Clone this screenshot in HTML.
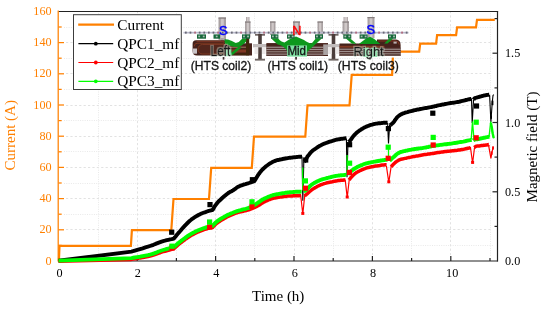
<!DOCTYPE html>
<html lang="en"><head><meta charset="utf-8"><title>Current and magnetic field vs time</title>
<style>html,body{margin:0;padding:0;background:#fff;}body{width:550px;height:310px;overflow:hidden;}svg{display:block;}.s{font-family:"Liberation Serif","DejaVu Serif",serif;}.a{font-family:"Liberation Sans","DejaVu Sans",sans-serif;}</style></head><body>
<svg width="550" height="310" viewBox="0 0 550 310">
<rect width="550" height="310" fill="#fff"/>
<g fill="none" stroke-width="1">
<line x1="64" y1="245.5" x2="493.5" y2="245.5" stroke="#e9e9e9" stroke-dasharray="1 1.3"/>
<line x1="66" y1="229.5" x2="491.5" y2="229.5" stroke="#e2e2e2" stroke-dasharray="2.2 2.2"/>
<line x1="64" y1="214.5" x2="493.5" y2="214.5" stroke="#e9e9e9" stroke-dasharray="1 1.3"/>
<line x1="66" y1="198.5" x2="491.5" y2="198.5" stroke="#e2e2e2" stroke-dasharray="2.2 2.2"/>
<line x1="64" y1="183.5" x2="493.5" y2="183.5" stroke="#e9e9e9" stroke-dasharray="1 1.3"/>
<line x1="66" y1="167.5" x2="491.5" y2="167.5" stroke="#e2e2e2" stroke-dasharray="2.2 2.2"/>
<line x1="64" y1="151.5" x2="493.5" y2="151.5" stroke="#e9e9e9" stroke-dasharray="1 1.3"/>
<line x1="66" y1="136.5" x2="491.5" y2="136.5" stroke="#e2e2e2" stroke-dasharray="2.2 2.2"/>
<line x1="64" y1="120.5" x2="493.5" y2="120.5" stroke="#e9e9e9" stroke-dasharray="1 1.3"/>
<line x1="66" y1="105.5" x2="491.5" y2="105.5" stroke="#e2e2e2" stroke-dasharray="2.2 2.2"/>
<line x1="64" y1="89.5" x2="493.5" y2="89.5" stroke="#e9e9e9" stroke-dasharray="1 1.3"/>
<line x1="66" y1="73.5" x2="491.5" y2="73.5" stroke="#e2e2e2" stroke-dasharray="2.2 2.2"/>
<line x1="64" y1="58.5" x2="493.5" y2="58.5" stroke="#e9e9e9" stroke-dasharray="1 1.3"/>
<line x1="66" y1="42.5" x2="491.5" y2="42.5" stroke="#e2e2e2" stroke-dasharray="2.2 2.2"/>
<line x1="64" y1="27.5" x2="493.5" y2="27.5" stroke="#e9e9e9" stroke-dasharray="1 1.3"/>
<line x1="98.5" y1="11.0" x2="98.5" y2="257.0" stroke="#e9e9e9" stroke-dasharray="1 1.3"/>
<line x1="137.5" y1="11.0" x2="137.5" y2="255.0" stroke="#e2e2e2" stroke-dasharray="2.2 2.2"/>
<line x1="176.5" y1="11.0" x2="176.5" y2="257.0" stroke="#e9e9e9" stroke-dasharray="1 1.3"/>
<line x1="215.5" y1="11.0" x2="215.5" y2="255.0" stroke="#e2e2e2" stroke-dasharray="2.2 2.2"/>
<line x1="254.5" y1="11.0" x2="254.5" y2="257.0" stroke="#e9e9e9" stroke-dasharray="1 1.3"/>
<line x1="294.5" y1="11.0" x2="294.5" y2="255.0" stroke="#e2e2e2" stroke-dasharray="2.2 2.2"/>
<line x1="333.5" y1="11.0" x2="333.5" y2="257.0" stroke="#e9e9e9" stroke-dasharray="1 1.3"/>
<line x1="372.5" y1="11.0" x2="372.5" y2="255.0" stroke="#e2e2e2" stroke-dasharray="2.2 2.2"/>
<line x1="411.5" y1="11.0" x2="411.5" y2="257.0" stroke="#e9e9e9" stroke-dasharray="1 1.3"/>
<line x1="450.5" y1="11.0" x2="450.5" y2="255.0" stroke="#e2e2e2" stroke-dasharray="2.2 2.2"/>
<line x1="490.5" y1="11.0" x2="490.5" y2="257.0" stroke="#e9e9e9" stroke-dasharray="1 1.3"/>
</g>
<g fill="none" stroke="#222" stroke-width="1.2">
<line x1="58.5" y1="11.5" x2="498.1" y2="11.5"/>
<line x1="497.5" y1="11.0" x2="497.5" y2="261.6"/>
<line x1="58.5" y1="261.0" x2="497.5" y2="261.0"/>
<line x1="98.0" y1="261.0" x2="98.0" y2="258.0"/>
<line x1="137.2" y1="261.0" x2="137.2" y2="256.0"/>
<line x1="176.4" y1="261.0" x2="176.4" y2="258.0"/>
<line x1="215.6" y1="261.0" x2="215.6" y2="256.0"/>
<line x1="254.8" y1="261.0" x2="254.8" y2="258.0"/>
<line x1="294.0" y1="261.0" x2="294.0" y2="256.0"/>
<line x1="333.2" y1="261.0" x2="333.2" y2="258.0"/>
<line x1="372.4" y1="261.0" x2="372.4" y2="256.0"/>
<line x1="411.6" y1="261.0" x2="411.6" y2="258.0"/>
<line x1="450.8" y1="261.0" x2="450.8" y2="256.0"/>
<line x1="490.0" y1="261.0" x2="490.0" y2="258.0"/>
<line x1="497.5" y1="226.4" x2="494.5" y2="226.4"/>
<line x1="497.5" y1="191.8" x2="492.5" y2="191.8"/>
<line x1="497.5" y1="157.1" x2="494.5" y2="157.1"/>
<line x1="497.5" y1="122.5" x2="492.5" y2="122.5"/>
<line x1="497.5" y1="87.9" x2="494.5" y2="87.9"/>
<line x1="497.5" y1="53.2" x2="492.5" y2="53.2"/>
<line x1="497.5" y1="18.6" x2="494.5" y2="18.6"/>
</g>
<g fill="none" stroke="#ff8000" stroke-width="1.25">
<line x1="58.2" y1="10.4" x2="58.2" y2="261.6"/>
<line x1="58.5" y1="245.4" x2="61.7" y2="245.4"/>
<line x1="58.5" y1="229.8" x2="64.0" y2="229.8"/>
<line x1="58.5" y1="214.2" x2="61.7" y2="214.2"/>
<line x1="58.5" y1="198.6" x2="64.0" y2="198.6"/>
<line x1="58.5" y1="183.0" x2="61.7" y2="183.0"/>
<line x1="58.5" y1="167.4" x2="64.0" y2="167.4"/>
<line x1="58.5" y1="151.8" x2="61.7" y2="151.8"/>
<line x1="58.5" y1="136.2" x2="64.0" y2="136.2"/>
<line x1="58.5" y1="120.6" x2="61.7" y2="120.6"/>
<line x1="58.5" y1="105.0" x2="64.0" y2="105.0"/>
<line x1="58.5" y1="89.4" x2="61.7" y2="89.4"/>
<line x1="58.5" y1="73.8" x2="64.0" y2="73.8"/>
<line x1="58.5" y1="58.2" x2="61.7" y2="58.2"/>
<line x1="58.5" y1="42.6" x2="64.0" y2="42.6"/>
<line x1="58.5" y1="27.0" x2="61.7" y2="27.0"/>
</g>
<polyline points="58.9,261.4 59.5,245.8 130.9,245.8 131.9,230.2 171.3,230.2 173.5,199.0 209.0,199.0 211.2,167.8 251.8,167.8 254.0,136.6 305.3,136.6 307.5,105.4 349.5,105.4 351.7,74.8 392.1,74.8 393.1,51.6 419.2,51.6 420.2,43.6 436.1,43.6 437.1,35.2 456.1,35.2 457.1,27.4 476.0,27.4 477.0,19.9 494.8,19.9" fill="none" stroke="#ff8000" stroke-width="2.2" stroke-linejoin="miter"/>
<g fill="none" stroke="#000" stroke-width="3.9" stroke-linejoin="round" stroke-linecap="butt">
<polyline points="58.5,260.8 131.4,251.6 132.9,251.2 134.9,250.6 137.3,249.9 140.0,249.1 142.7,248.3 145.4,247.4 147.9,246.7 150.0,246.0 151.8,245.4 153.4,244.8 154.8,244.2 156.2,243.6 157.5,243.1 158.8,242.6 160.2,242.1 161.6,241.6 163.2,241.1 164.9,240.7 166.7,240.2 168.4,239.8 170.1,239.4 171.6,239.1 172.9,238.8 173.8,238.6 174.2,238.2 174.6,237.6 175.2,236.9 175.8,236.2 176.5,235.3 177.3,234.4 178.1,233.4 179.0,232.4 180.0,231.3 181.1,230.0 182.3,228.6 183.6,227.1 184.9,225.7 186.2,224.3 187.5,223.0 188.7,221.8 189.9,220.7 191.1,219.8 192.3,218.8 193.6,218.0 194.8,217.2 196.0,216.4 197.2,215.7 198.4,215.0 199.6,214.4 200.9,213.8 202.2,213.2 203.5,212.7 204.8,212.3 206.0,211.9 207.0,211.5 208.0,211.2 208.8,210.9 209.6,210.7 210.3,210.5 210.9,210.4 211.4,210.2 211.9,210.2 212.3,210.1 212.6,210.0 213.0,209.4 213.4,208.7 213.9,207.8 214.5,206.7 215.2,205.7 216.0,204.6 216.8,203.5 217.7,202.4 218.7,201.3 219.9,200.2 221.2,199.0 222.5,197.8 223.9,196.6 225.2,195.5 226.4,194.5 227.4,193.7 228.3,193.0 229.1,192.5 229.8,192.1 230.4,191.8 231.0,191.5 231.6,191.2 232.3,190.8 233.0,190.4 233.7,189.9 234.4,189.4 235.2,188.8 235.9,188.3 236.7,187.7 237.5,187.2 238.3,186.7 239.3,186.2 240.4,185.7 241.6,185.3 242.9,184.9 244.2,184.4 245.5,184.1 246.8,183.7 248.0,183.3 249.0,183.0 249.9,182.7 250.8,182.4 251.6,182.1 252.3,181.9 253.0,181.7 253.5,181.5 254.0,181.3 254.4,181.2 254.7,180.6 255.2,179.9 255.7,179.0 256.3,178.0 256.9,177.0 257.5,176.0 258.1,175.0 258.7,174.2 259.2,173.5 259.7,172.8 260.3,172.1 260.8,171.4 261.3,170.8 261.8,170.2 262.4,169.6 263.0,169.0 263.6,168.4 264.3,167.8 265.0,167.2 265.7,166.6 266.4,166.0 267.1,165.5 267.8,165.0 268.4,164.5 269.0,164.1 269.6,163.7 270.2,163.3 270.7,163.0 271.3,162.7 271.8,162.4 272.4,162.1 273.0,161.8 273.6,161.5 274.1,161.3 274.6,161.1 275.2,160.9 275.8,160.6 276.4,160.4 277.1,160.2 278.0,160.0 279.0,159.8 280.2,159.5 281.4,159.3 282.7,159.0 284.0,158.7 285.3,158.5 286.6,158.3 287.7,158.1 288.7,157.9 289.7,157.8 290.6,157.7 291.5,157.6 292.4,157.5 293.3,157.4 294.1,157.3 295.0,157.2 295.9,157.1 296.9,157.0 298.0,156.9 299.0,156.8 299.9,156.8 300.7,156.7 301.5,156.6 302.0,156.6"/>
<polyline points="304.2,161.5 304.3,161.4 304.5,161.3 304.6,161.1 304.8,161.0 305.0,160.8 305.3,160.5 305.5,160.3 305.7,160.0 305.9,159.7 306.1,159.3 306.3,158.8 306.6,158.4 306.8,157.9 307.0,157.4 307.3,157.0 307.5,156.6 307.7,156.2 308.0,155.9 308.2,155.6 308.5,155.3 308.7,155.0 309.0,154.6 309.2,154.3 309.5,154.0 309.8,153.7 310.1,153.3 310.4,152.9 310.7,152.6 311.0,152.2 311.3,151.9 311.6,151.5 312.0,151.2 312.4,150.9 312.7,150.6 313.1,150.3 313.5,150.0 313.9,149.7 314.4,149.4 314.8,149.1 315.3,148.8 315.8,148.4 316.4,148.1 316.9,147.7 317.5,147.2 318.2,146.8 318.8,146.4 319.4,146.1 320.0,145.7 320.6,145.4 321.1,145.1 321.6,144.8 322.2,144.6 322.8,144.3 323.4,144.0 324.1,143.7 325.0,143.4 326.0,143.0 327.2,142.6 328.4,142.2 329.8,141.7 331.1,141.3 332.4,140.9 333.6,140.5 334.7,140.2 335.7,139.9 336.5,139.7 337.4,139.5 338.1,139.4 338.9,139.3 339.6,139.1 340.3,139.0 341.0,138.9 341.8,138.8 342.5,138.7 343.3,138.6 344.1,138.5 344.8,138.4 345.5,138.3 346.0,138.2 346.4,138.2"/>
<polyline points="348.6,142.0 348.7,141.9 348.9,141.7 349.1,141.5 349.4,141.3 349.7,141.1 349.9,140.8 350.2,140.5 350.5,140.2 350.8,139.8 351.1,139.4 351.4,139.0 351.7,138.5 352.0,138.0 352.3,137.5 352.7,137.0 353.0,136.6 353.3,136.2 353.7,135.8 354.0,135.4 354.4,135.0 354.8,134.6 355.2,134.2 355.6,133.8 356.0,133.4 356.4,133.0 356.9,132.6 357.3,132.2 357.8,131.8 358.3,131.4 358.8,131.0 359.4,130.6 360.0,130.2 360.6,129.8 361.3,129.3 362.0,128.9 362.8,128.5 363.5,128.0 364.3,127.6 365.1,127.2 366.0,126.8 366.9,126.4 367.9,126.0 368.9,125.6 369.9,125.2 370.9,124.9 372.0,124.6 373.0,124.3 374.0,124.0 375.0,123.8 376.1,123.6 377.1,123.5 378.2,123.3 379.2,123.3 380.2,123.2 381.1,123.1 382.0,123.0 382.9,122.9 383.7,122.8 384.5,122.8 385.3,122.7 386.0,122.7 386.7,122.7 387.2,122.6 387.6,122.6"/>
<polyline points="390.0,125.4 390.2,125.2 390.5,125.0 390.8,124.8 391.1,124.5 391.5,124.2 391.8,123.9 392.1,123.7 392.4,123.4 392.6,123.2 392.8,123.0 393.0,122.8 393.2,122.6 393.4,122.4 393.6,122.1 393.8,121.9 394.0,121.6 394.3,121.3 394.5,120.9 394.8,120.5 395.1,120.0 395.4,119.6 395.7,119.2 396.0,118.8 396.3,118.4 396.6,118.1 396.8,117.7 397.1,117.5 397.3,117.2 397.6,116.9 397.9,116.6 398.2,116.3 398.6,116.0 399.0,115.7 399.5,115.4 400.0,115.0 400.5,114.7 401.0,114.4 401.7,114.1 402.4,113.7 403.2,113.4 404.1,113.1 405.2,112.7 406.3,112.4 407.5,112.1 408.7,111.7 409.9,111.4 411.1,111.1 412.3,110.8 413.4,110.5 414.6,110.2 415.7,110.0 416.9,109.7 418.0,109.5 419.1,109.3 420.3,109.0 421.4,108.8 422.5,108.6 423.7,108.4 424.8,108.2 426.0,108.0 427.1,107.8 428.2,107.6 429.4,107.4 430.5,107.2 431.6,107.0 432.8,106.7 433.9,106.5 435.0,106.2 436.1,106.0 437.2,105.7 438.4,105.4 439.5,105.2 440.6,105.0 441.8,104.7 442.9,104.5 444.0,104.3 445.2,104.0 446.3,103.8 447.5,103.6 448.6,103.4 449.7,103.2 450.9,103.0 452.0,102.9 453.2,102.7 454.3,102.6 455.4,102.4 456.6,102.2 457.7,102.0 458.9,101.8 460.1,101.5 461.3,101.2 462.5,100.9 463.7,100.6 464.8,100.3 465.9,100.0 466.8,99.8 467.6,99.6 468.4,99.4 469.1,99.3 469.8,99.2 470.3,99.0 470.8,99.0 471.3,98.9 471.6,98.8"/>
<polyline points="473.6,99.6 473.7,99.5 473.8,99.3 473.9,99.2 474.0,99.0 474.2,98.8 474.3,98.6 474.5,98.4 474.8,98.2 475.1,98.1 475.5,97.9 475.8,97.8 476.3,97.7 476.7,97.6 477.1,97.4 477.6,97.3 478.0,97.2 478.4,97.1 478.8,97.0 479.2,96.9 479.6,96.7 480.0,96.6 480.4,96.5 480.9,96.4 481.3,96.3 481.7,96.2 482.2,96.0 482.6,95.9 483.1,95.8 483.5,95.7 484.0,95.5 484.5,95.4 485.0,95.3 485.5,95.2 486.2,95.1 486.8,95.0 487.4,94.9 488.0,94.8 488.6,94.7 489.1,94.7 489.4,94.6"/>
</g>
<g fill="none" stroke="#000" stroke-width="1.1" stroke-linejoin="miter">
<polyline points="302,156.5 302.8,200.7 303.8,162"/>
<polyline points="346.4,138.5 347,177.2 348,142"/>
<polyline points="387.6,123 388.5,143.4 389.6,125"/>
<polyline points="471.5,98.6 472.2,123 473.6,99.4"/>
<polyline points="489.6,95 490.9,122 492.2,103 493,95.4 493.8,94.6"/>
<rect x="491.5" y="100.6" width="1.9" height="4.6" fill="#000" stroke="none"/>
<rect x="490.3" y="115.4" width="1.7" height="3.4" fill="#000" stroke="none"/>
</g>
<g fill="none" stroke="#ff0000" stroke-width="3.5" stroke-linejoin="round" stroke-linecap="butt">
<polyline points="58.5,261.2 131.4,259.4 132.9,259.1 134.9,258.8 137.3,258.4 140.0,257.9 142.7,257.5 145.4,257.0 147.9,256.5 150.0,256.0 151.8,255.5 153.4,255.1 154.8,254.6 156.2,254.1 157.5,253.6 158.8,253.1 160.2,252.7 161.6,252.2 163.2,251.7 164.9,251.2 166.7,250.7 168.4,250.3 170.1,249.8 171.6,249.4 172.9,249.1 173.8,248.8 174.2,248.5 174.6,248.0 175.2,247.5 175.8,246.9 176.5,246.3 177.3,245.6 178.1,244.9 179.0,244.2 180.0,243.4 181.1,242.5 182.3,241.6 183.6,240.6 184.9,239.7 186.2,238.7 187.5,237.8 188.7,237.0 189.9,236.2 191.1,235.5 192.3,234.8 193.6,234.2 194.8,233.5 196.0,232.9 197.2,232.4 198.4,231.8 199.6,231.3 200.9,230.8 202.2,230.3 203.5,229.8 204.8,229.4 206.0,229.0 207.0,228.7 208.0,228.4 208.8,228.2 209.6,228.0 210.3,227.8 210.9,227.7 211.4,227.6 211.9,227.5 212.3,227.5 212.6,227.4 213.0,227.0 213.4,226.6 213.9,226.0 214.5,225.4 215.2,224.7 216.0,224.0 216.8,223.3 217.7,222.6 218.7,221.9 219.8,221.2 221.0,220.4 222.3,219.6 223.6,218.9 224.9,218.1 226.2,217.4 227.4,216.8 228.6,216.2 229.8,215.6 231.0,215.1 232.2,214.6 233.4,214.1 234.6,213.6 235.8,213.2 237.0,212.8 238.2,212.4 239.5,212.1 240.8,211.8 242.1,211.5 243.3,211.2 244.5,210.9 245.6,210.7 246.7,210.4 247.7,210.1 248.7,209.8 249.6,209.5 250.5,209.2 251.2,208.9 251.9,208.6 252.5,208.4 253.0,208.2 253.4,208.0 254.1,207.7 254.8,207.4 255.6,207.0 256.4,206.6 257.2,206.2 258.0,205.8 258.7,205.4 259.3,205.0 259.8,204.7 260.4,204.3 260.9,204.0 261.4,203.6 261.9,203.3 262.4,202.9 263.0,202.6 263.6,202.3 264.3,201.9 265.0,201.6 265.7,201.2 266.4,200.9 267.1,200.6 267.8,200.3 268.4,200.0 269.0,199.7 269.6,199.5 270.2,199.3 270.7,199.1 271.3,198.9 271.8,198.7 272.4,198.6 273.0,198.4 273.6,198.2 274.1,198.1 274.6,198.0 275.2,197.9 275.8,197.8 276.4,197.7 277.1,197.5 278.0,197.4 279.0,197.2 280.2,197.1 281.4,196.9 282.7,196.7 284.0,196.5 285.3,196.4 286.6,196.2 287.7,196.1 288.7,196.0 289.7,196.0 290.7,195.9 291.6,195.9 292.5,195.9 293.3,195.8 294.2,195.8 295.0,195.8 295.9,195.8 296.7,195.7 297.6,195.7 298.5,195.7 299.2,195.7 300.0,195.6 300.5,195.6 301.0,195.6"/>
<polyline points="304.6,196.0 304.8,195.8 305.1,195.5 305.5,195.2 305.9,194.9 306.3,194.5 306.8,194.1 307.2,193.8 307.6,193.4 308.0,193.0 308.4,192.7 308.8,192.3 309.2,191.9 309.6,191.5 310.1,191.1 310.5,190.8 311.0,190.4 311.5,190.0 312.0,189.7 312.5,189.3 313.1,189.0 313.6,188.6 314.2,188.3 314.7,187.9 315.3,187.6 315.9,187.3 316.4,187.0 317.0,186.6 317.6,186.3 318.2,186.0 318.8,185.7 319.4,185.5 320.0,185.2 320.6,184.9 321.1,184.7 321.6,184.5 322.2,184.3 322.8,184.1 323.4,183.9 324.1,183.6 325.0,183.4 326.0,183.1 327.2,182.8 328.5,182.5 329.8,182.2 331.2,181.9 332.5,181.7 333.7,181.4 334.7,181.2 335.6,181.0 336.3,180.9 337.0,180.8 337.6,180.7 338.2,180.6 338.8,180.5 339.4,180.5 340.0,180.4 340.7,180.3 341.5,180.3 342.3,180.2 343.0,180.2 343.8,180.1 344.4,180.1 345.0,180.0 345.4,180.0"/>
<polyline points="349.0,180.0 349.2,179.7 349.5,179.3 349.9,178.9 350.3,178.4 350.7,177.8 351.2,177.3 351.6,176.8 352.0,176.4 352.4,176.0 352.8,175.6 353.1,175.3 353.5,174.9 353.9,174.5 354.3,174.2 354.6,173.9 355.0,173.6 355.3,173.3 355.7,173.1 356.0,172.9 356.3,172.6 356.6,172.4 357.0,172.2 357.4,172.0 357.9,171.7 358.5,171.4 359.2,171.1 359.9,170.7 360.7,170.3 361.5,170.0 362.3,169.6 363.0,169.3 363.7,169.0 364.3,168.8 364.9,168.6 365.4,168.4 365.9,168.2 366.4,168.0 366.9,167.9 367.4,167.8 368.0,167.6 368.6,167.5 369.2,167.3 369.8,167.2 370.4,167.1 371.0,166.9 371.7,166.8 372.5,166.7 373.4,166.5 374.4,166.3 375.6,166.1 377.0,165.9 378.3,165.7 379.7,165.5 380.9,165.3 382.1,165.1 383.0,165.0 383.8,164.9 384.4,164.9 384.9,164.8 385.4,164.8 385.8,164.8 386.1,164.8 386.4,164.8 386.6,164.8"/>
<polyline points="391.0,166.8 391.3,166.5 391.6,166.2 392.0,165.7 392.5,165.2 393.0,164.7 393.4,164.2 393.9,163.8 394.3,163.4 394.7,163.1 395.0,162.8 395.3,162.5 395.7,162.2 396.0,161.9 396.3,161.7 396.7,161.4 397.0,161.2 397.4,161.0 397.7,160.7 398.1,160.5 398.4,160.3 398.8,160.1 399.2,159.9 399.6,159.8 400.0,159.6 400.4,159.5 400.8,159.3 401.2,159.2 401.6,159.1 402.0,159.0 402.6,158.9 403.2,158.8 404.0,158.6 404.9,158.4 406.0,158.2 407.2,157.9 408.5,157.6 409.8,157.4 411.1,157.1 412.4,156.8 413.7,156.6 414.9,156.4 416.1,156.1 417.3,155.9 418.6,155.7 419.8,155.4 421.0,155.2 422.2,155.0 423.4,154.8 424.6,154.6 425.8,154.4 427.0,154.3 428.2,154.1 429.4,153.9 430.6,153.7 431.8,153.6 433.0,153.4 434.2,153.2 435.4,153.0 436.6,152.8 437.8,152.6 439.1,152.4 440.3,152.2 441.5,152.1 442.7,151.9 443.9,151.7 445.1,151.6 446.3,151.5 447.6,151.3 448.8,151.2 450.0,151.1 451.2,150.9 452.4,150.8 453.6,150.7 454.8,150.5 456.1,150.4 457.3,150.3 458.5,150.1 459.7,150.0 460.8,149.8 462.0,149.6 463.2,149.4 464.4,149.1 465.7,148.8 466.9,148.5 468.0,148.2 469.1,148.0 469.9,147.8 470.6,147.6"/>
<polyline points="474.4,147.5 474.5,147.4 474.7,147.3 474.8,147.1 475.0,146.9 475.2,146.7 475.5,146.6 475.7,146.4 476.0,146.3 476.3,146.2 476.6,146.2 476.9,146.1 477.2,146.1 477.5,146.1 477.9,146.1 478.3,146.0 478.7,146.0 479.2,145.9 479.7,145.9 480.2,145.8 480.7,145.7 481.3,145.6 481.9,145.6 482.4,145.5 483.0,145.4 483.6,145.3 484.2,145.2 484.9,145.2 485.6,145.1 486.2,145.0 486.8,144.9 487.3,144.9 487.7,144.8 488.0,144.8 488.3,144.7 488.4,144.7 488.5,144.7 488.6,144.6 488.7,144.6 488.7,144.6 488.8,144.6"/>
</g>
<g fill="none" stroke="#ff0000" stroke-width="1.2" stroke-linejoin="miter">
<polyline points="300.6,194.5 302.8,214 304.8,194.6"/>
<polyline points="345.2,179.8 347.2,197.6 349.2,180"/>
<polyline points="386.4,166 388.8,182.4 391.2,166"/>
<polyline points="470.4,147 472.6,163 474.6,147"/>
<polyline points="488.6,145.4 490.9,158.4 492,152 493.2,146.6"/>
<rect x="490.8" y="151.4" width="1.8" height="3.4" fill="#ff0000" stroke="none"/>
<rect x="492.2" y="146.4" width="1.7" height="3.2" fill="#ff0000" stroke="none"/>
</g>
<g fill="#ff0000">
<rect x="301.3" y="211.9" width="3" height="3"/>
<rect x="345.7" y="195.5" width="3" height="3"/>
<rect x="387.3" y="180.3" width="3" height="3"/>
<rect x="471.1" y="160.9" width="3" height="3"/>
</g>
<g fill="none" stroke="#00ff00" stroke-width="3.9" stroke-linejoin="round" stroke-linecap="butt">
<polyline points="58.5,260.6 131.4,258.1 132.9,257.8 134.9,257.5 137.3,257.1 140.0,256.7 142.7,256.2 145.4,255.7 147.9,255.2 150.0,254.7 151.8,254.2 153.4,253.7 154.8,253.1 156.2,252.6 157.5,252.1 158.8,251.5 160.2,251.0 161.6,250.5 163.2,250.0 164.9,249.5 166.7,249.0 168.4,248.5 170.1,248.1 171.6,247.7 172.9,247.4 173.8,247.1 174.2,246.8 174.6,246.4 175.2,245.9 175.8,245.3 176.5,244.7 177.3,244.0 178.1,243.3 179.0,242.6 180.0,241.8 181.1,240.9 182.3,240.0 183.6,239.0 184.9,238.1 186.2,237.1 187.5,236.2 188.7,235.4 189.9,234.6 191.1,233.9 192.3,233.2 193.6,232.6 194.8,231.9 196.0,231.3 197.2,230.8 198.4,230.2 199.6,229.7 200.9,229.2 202.2,228.7 203.5,228.2 204.8,227.8 206.0,227.4 207.0,227.1 208.0,226.8 208.8,226.6 209.6,226.4 210.3,226.2 210.9,226.1 211.4,226.0 211.9,225.9 212.3,225.9 212.6,225.8 213.0,225.4 213.4,224.9 213.9,224.4 214.5,223.7 215.2,223.0 216.0,222.3 216.8,221.6 217.7,220.9 218.7,220.2 219.8,219.5 221.0,218.7 222.3,217.9 223.6,217.2 224.9,216.4 226.2,215.7 227.4,215.1 228.6,214.5 229.8,214.0 231.0,213.4 232.2,213.0 233.4,212.5 234.6,212.0 235.8,211.6 237.0,211.2 238.2,210.8 239.5,210.4 240.8,210.1 242.1,209.7 243.3,209.4 244.5,209.1 245.7,208.8 246.7,208.5 247.7,208.2 248.6,207.9 249.5,207.5 250.3,207.2 251.0,206.9 251.6,206.7 252.2,206.5 252.6,206.3 253.1,206.0 253.7,205.5 254.5,205.0 255.4,204.4 256.3,203.8 257.2,203.2 258.0,202.7 258.7,202.2 259.3,201.8 259.9,201.4 260.4,201.0 260.9,200.6 261.4,200.3 261.9,200.0 262.4,199.6 263.0,199.3 263.6,199.0 264.3,198.6 265.0,198.3 265.7,198.0 266.4,197.7 267.1,197.4 267.8,197.1 268.4,196.8 269.0,196.5 269.6,196.3 270.2,196.1 270.7,195.9 271.3,195.7 271.8,195.5 272.4,195.3 273.0,195.1 273.6,194.9 274.1,194.8 274.6,194.7 275.2,194.6 275.8,194.5 276.4,194.4 277.1,194.2 278.0,194.1 279.0,193.9 280.2,193.7 281.4,193.5 282.7,193.3 284.0,193.1 285.3,192.8 286.6,192.7 287.7,192.5 288.7,192.4 289.7,192.3 290.6,192.2 291.5,192.1 292.4,192.1 293.3,192.0 294.1,192.0 295.0,191.9 295.9,191.8 296.9,191.8 297.8,191.8 298.8,191.7 299.6,191.7 300.4,191.6 301.1,191.6 301.6,191.6"/>
<polyline points="303.6,191.5 303.7,191.4 303.9,191.3 304.2,191.2 304.4,191.1 304.7,190.9 305.0,190.8 305.2,190.6 305.5,190.4 305.7,190.2 306.0,190.0 306.2,189.8 306.5,189.6 306.7,189.4 307.0,189.2 307.3,188.9 307.6,188.6 308.0,188.2 308.3,187.8 308.7,187.4 309.2,187.0 309.6,186.5 310.1,186.0 310.5,185.6 311.0,185.2 311.5,184.8 312.0,184.4 312.5,184.1 313.1,183.7 313.6,183.4 314.2,183.0 314.7,182.7 315.3,182.4 315.9,182.1 316.4,181.8 317.0,181.5 317.6,181.2 318.2,181.0 318.8,180.7 319.4,180.4 320.0,180.2 320.6,180.0 321.1,179.8 321.6,179.6 322.2,179.4 322.8,179.2 323.4,179.0 324.1,178.8 325.0,178.6 326.0,178.3 327.2,178.0 328.5,177.7 329.8,177.3 331.2,177.0 332.5,176.7 333.7,176.4 334.7,176.2 335.6,176.0 336.3,175.9 337.0,175.8 337.6,175.7 338.1,175.6 338.7,175.5 339.3,175.5 340.0,175.4 340.8,175.3 341.6,175.2 342.5,175.1 343.4,175.1 344.3,175.0 345.1,174.9 345.7,174.8 346.2,174.8"/>
<polyline points="348.0,174.0 348.2,173.9 348.4,173.7 348.6,173.5 348.9,173.2 349.2,173.0 349.5,172.7 349.7,172.4 350.0,172.2 350.2,172.0 350.5,171.8 350.7,171.5 350.9,171.3 351.2,171.1 351.4,170.9 351.7,170.6 352.0,170.4 352.3,170.2 352.7,169.9 353.1,169.7 353.4,169.4 353.8,169.1 354.2,168.9 354.6,168.6 355.0,168.4 355.3,168.2 355.7,168.0 356.0,167.8 356.3,167.6 356.6,167.4 357.0,167.2 357.4,166.9 357.9,166.7 358.5,166.4 359.2,166.1 359.9,165.8 360.7,165.4 361.5,165.1 362.3,164.8 363.0,164.5 363.7,164.2 364.3,164.0 364.9,163.8 365.4,163.7 365.9,163.5 366.4,163.4 366.9,163.3 367.4,163.1 368.0,163.0 368.6,162.9 369.2,162.7 369.8,162.6 370.4,162.5 371.0,162.4 371.7,162.2 372.5,162.1 373.4,161.9 374.4,161.7 375.6,161.5 376.9,161.2 378.2,161.0 379.6,160.8 380.9,160.5 382.0,160.4 383.0,160.2 383.8,160.1 384.6,160.0 385.3,159.9 385.9,159.9 386.4,159.9 386.9,159.8 387.3,159.8 387.6,159.8"/>
<polyline points="389.6,160.8 389.8,160.6 390.0,160.4 390.3,160.1 390.7,159.7 391.0,159.4 391.4,159.0 391.7,158.7 392.0,158.4 392.3,158.1 392.6,157.9 392.9,157.7 393.1,157.5 393.4,157.2 393.7,157.0 394.0,156.8 394.3,156.5 394.6,156.2 394.9,155.9 395.3,155.6 395.6,155.2 395.9,154.9 396.3,154.6 396.6,154.3 397.0,154.0 397.4,153.7 397.7,153.5 398.1,153.3 398.4,153.1 398.8,152.9 399.2,152.7 399.6,152.5 400.0,152.3 400.4,152.1 400.8,152.0 401.2,151.9 401.6,151.8 402.0,151.7 402.6,151.5 403.2,151.4 404.0,151.2 404.9,151.0 406.0,150.7 407.2,150.5 408.5,150.2 409.8,149.9 411.1,149.7 412.4,149.4 413.7,149.2 414.9,149.0 416.1,148.8 417.3,148.7 418.6,148.5 419.8,148.4 421.0,148.3 422.2,148.1 423.4,147.9 424.6,147.7 425.8,147.5 427.0,147.2 428.2,147.0 429.4,146.7 430.6,146.5 431.8,146.2 433.0,146.0 434.2,145.8 435.4,145.6 436.6,145.4 437.8,145.3 439.1,145.1 440.3,144.9 441.5,144.8 442.7,144.6 443.9,144.4 445.1,144.3 446.3,144.2 447.6,144.0 448.8,143.9 450.0,143.7 451.2,143.6 452.4,143.4 453.6,143.2 454.8,143.0 456.0,142.8 457.2,142.7 458.4,142.4 459.6,142.2 460.8,142.0 462.0,141.8 463.3,141.6 464.6,141.3 466.0,141.0 467.4,140.7 468.7,140.4 469.9,140.2 470.9,140.0 471.6,139.8"/>
<polyline points="473.2,140.4 473.3,140.3 473.5,140.2 473.7,140.1 473.9,140.0 474.1,139.8 474.4,139.7 474.7,139.6 475.0,139.5 475.4,139.4 475.8,139.4 476.2,139.3 476.7,139.3 477.2,139.2 477.7,139.2 478.2,139.1 478.7,139.0 479.2,138.9 479.7,138.8 480.3,138.7 480.8,138.5 481.3,138.4 481.9,138.3 482.4,138.1 483.0,138.0 483.6,137.9 484.2,137.7 484.9,137.6 485.5,137.5 486.1,137.3 486.7,137.2 487.2,137.1 487.7,137.0 488.1,136.9 488.4,136.9 488.7,136.9 488.9,136.8 489.1,136.8 489.3,136.8 489.5,136.8 489.6,136.8"/>
</g>
<g fill="none" stroke="#00ff00" stroke-width="1.3" stroke-linejoin="miter">
<polyline points="302.7,190 302.7,167.6"/>
<polyline points="347.1,174 347.1,155"/>
<polyline points="388.5,161 388.5,147"/>
<polyline points="471.2,139.4 472.5,121.6 474,139.6"/>
<polyline points="489,137 490.7,121.6 491.8,127.7 492.6,133.3 493.8,138.4"/>
<polyline points="490.9,123 491.9,128 492.7,133.5 493.7,138" stroke-width="2.4"/>
</g>
<rect x="169.1" y="229.6" width="5.2" height="5.2" fill="#000"/>
<rect x="207.4" y="202.0" width="5.2" height="5.2" fill="#000"/>
<rect x="249.8" y="177.1" width="5.2" height="5.2" fill="#000"/>
<rect x="303.1" y="157.4" width="5.2" height="5.2" fill="#000"/>
<rect x="347.0" y="142.1" width="5.2" height="5.2" fill="#000"/>
<rect x="385.8" y="126.0" width="5.2" height="5.2" fill="#000"/>
<rect x="430.2" y="110.6" width="5.2" height="5.2" fill="#000"/>
<rect x="473.9" y="103.4" width="5.2" height="5.2" fill="#000"/>
<rect x="169.3" y="245.2" width="5.2" height="5.2" fill="#ff0000"/>
<rect x="207.0" y="224.4" width="5.2" height="5.2" fill="#ff0000"/>
<rect x="249.4" y="203.8" width="5.2" height="5.2" fill="#ff0000"/>
<rect x="302.8" y="185.6" width="5.2" height="5.2" fill="#ff0000"/>
<rect x="346.8" y="169.8" width="5.2" height="5.2" fill="#ff0000"/>
<rect x="385.6" y="155.7" width="5.2" height="5.2" fill="#ff0000"/>
<rect x="430.6" y="142.4" width="5.2" height="5.2" fill="#ff0000"/>
<rect x="473.6" y="135.2" width="5.2" height="5.2" fill="#ff0000"/>
<rect x="169.3" y="243.6" width="5.2" height="5.2" fill="#00ff00"/>
<rect x="207.0" y="219.4" width="5.2" height="5.2" fill="#00ff00"/>
<rect x="249.4" y="199.2" width="5.2" height="5.2" fill="#00ff00"/>
<rect x="302.8" y="178.3" width="5.2" height="5.2" fill="#00ff00"/>
<rect x="347.0" y="160.6" width="5.2" height="5.2" fill="#00ff00"/>
<rect x="385.6" y="144.6" width="5.2" height="5.2" fill="#00ff00"/>
<rect x="430.6" y="134.8" width="5.2" height="5.2" fill="#00ff00"/>
<rect x="473.6" y="119.6" width="5.2" height="5.2" fill="#00ff00"/>
<g class="s" font-size="12.2" fill="#ff8000" text-anchor="end">
<text x="51.6" y="264.5">0</text>
<text x="51.6" y="233.3">20</text>
<text x="51.6" y="202.1">40</text>
<text x="51.6" y="170.9">60</text>
<text x="51.6" y="139.7">80</text>
<text x="51.6" y="108.5">100</text>
<text x="51.6" y="77.3">120</text>
<text x="51.6" y="46.1">140</text>
<text x="51.6" y="14.9">160</text>
</g>
<g class="s" font-size="12.2" fill="#000" text-anchor="middle">
<text x="59.5" y="277.3">0</text>
<text x="137.9" y="277.3">2</text>
<text x="216.3" y="277.3">4</text>
<text x="294.7" y="277.3">6</text>
<text x="373.1" y="277.3">8</text>
<text x="452.2" y="277.3">10</text>
</g>
<g class="s" font-size="12.2" fill="#000" text-anchor="start">
<text x="505" y="265.0">0.0</text>
<text x="505" y="195.8">0.5</text>
<text x="505" y="126.5">1.0</text>
<text x="505" y="57.2">1.5</text>
</g>
<text class="s" font-size="15" fill="#000" text-anchor="middle" x="278.2" y="301.2">Time (h)</text>
<text class="s" font-size="15" fill="#ff8000" text-anchor="middle" transform="translate(14.8 135.3) rotate(-90)">Current (A)</text>
<text class="s" font-size="15" fill="#000" text-anchor="middle" transform="translate(537 147) rotate(-90)">Magnetic field (T)</text>
<rect x="73.5" y="14.7" width="107.8" height="74.8" fill="#fff" stroke="#3c3c3c" stroke-width="1"/>
<line x1="78.2" y1="24.7" x2="114" y2="24.7" stroke="#ff8000" stroke-width="2.2"/>
<line x1="78.4" y1="43.7" x2="113.2" y2="43.7" stroke="#000" stroke-width="1.2"/>
<circle cx="95.8" cy="43.7" r="1.9" fill="#000"/>
<line x1="78.4" y1="62.5" x2="113.2" y2="62.5" stroke="#ff0000" stroke-width="1.2"/>
<circle cx="95.8" cy="62.5" r="1.9" fill="#ff0000"/>
<line x1="78.4" y1="81.3" x2="113.2" y2="81.3" stroke="#00ff00" stroke-width="1.2"/>
<circle cx="95.8" cy="81.3" r="1.9" fill="#00ff00"/>
<g class="s" font-size="15.3" fill="#000">
<text x="117.3" y="29.5">Current</text>
<text x="117.3" y="48.7">QPC1_mf</text>
<text x="117.3" y="67.5">QPC2_mf</text>
<text x="117.3" y="86.3">QPC3_mf</text>
</g>
<defs><filter id="bl" x="-5%" y="-10%" width="110%" height="120%"><feGaussianBlur stdDeviation="0.45"/></filter><filter id="halo" x="-10%" y="-20%" width="120%" height="140%"><feMorphology in="SourceAlpha" operator="dilate" radius="0.7" result="d"/><feGaussianBlur in="d" stdDeviation="0.5" result="db"/><feFlood flood-color="#dff2e4" flood-opacity="0.4"/><feComposite in2="db" operator="in" result="h"/><feMerge><feMergeNode in="h"/><feMergeNode in="SourceGraphic"/></feMerge></filter></defs>
<rect x="183.5" y="33.6" width="216.5" height="24" fill="#fff"/>
<g filter="url(#bl)">
<rect x="218.5" y="17.5" width="7.5" height="22.5" fill="#aaa2a3"/>
<rect x="220.8" y="17.5" width="3.0" height="22.5" fill="#cfc8c8"/>
<rect x="218.5" y="17.5" width="7.5" height="1.2" fill="#857e7e"/>
<rect x="246" y="17" width="3.5" height="5" fill="#aaa2a3"/>
<rect x="246.8" y="17" width="1.9" height="5" fill="#cfc8c8"/>
<rect x="245" y="21.5" width="5.5" height="16.0" fill="#aaa2a3"/>
<rect x="246.7" y="21.5" width="2.2" height="16.0" fill="#cfc8c8"/>
<rect x="245" y="21.5" width="5.5" height="1.2" fill="#857e7e"/>
<rect x="270" y="21.5" width="5.5" height="13.5" fill="#aaa2a3"/>
<rect x="271.6" y="21.5" width="2.2" height="13.5" fill="#cfc8c8"/>
<rect x="270" y="21.5" width="5.5" height="1.2" fill="#857e7e"/>
<rect x="293" y="21.5" width="7" height="13.5" fill="#aaa2a3"/>
<rect x="295.1" y="21.5" width="2.8" height="13.5" fill="#cfc8c8"/>
<rect x="293" y="21.5" width="7" height="1.2" fill="#857e7e"/>
<rect x="317.5" y="21.5" width="5.5" height="13.5" fill="#aaa2a3"/>
<rect x="319.1" y="21.5" width="2.2" height="13.5" fill="#cfc8c8"/>
<rect x="317.5" y="21.5" width="5.5" height="1.2" fill="#857e7e"/>
<rect x="343.5" y="17" width="4.5" height="5" fill="#aaa2a3"/>
<rect x="344.3" y="17" width="2.9" height="5" fill="#cfc8c8"/>
<rect x="342.5" y="21.5" width="6.5" height="13.5" fill="#aaa2a3"/>
<rect x="344.4" y="21.5" width="2.6" height="13.5" fill="#cfc8c8"/>
<rect x="342.5" y="21.5" width="6.5" height="1.2" fill="#857e7e"/>
<rect x="367.5" y="17" width="7.0" height="21" fill="#aaa2a3"/>
<rect x="369.6" y="17" width="2.8" height="21" fill="#cfc8c8"/>
<rect x="367.5" y="17" width="7.0" height="1.2" fill="#857e7e"/>
<rect x="220.8" y="38" width="3" height="6" fill="#aaa2a3"/>
<rect x="183.5" y="31.8" width="225" height="1.7" fill="#b8b8ca"/>
<rect x="185.0" y="31.6" width="1.7" height="2" fill="#686874"/>
<rect x="189.6" y="31.6" width="1.7" height="2" fill="#686874"/>
<rect x="194.2" y="31.6" width="1.7" height="2" fill="#b06478"/>
<rect x="198.8" y="31.6" width="1.7" height="2" fill="#686874"/>
<rect x="203.4" y="31.6" width="1.7" height="2" fill="#686874"/>
<rect x="208.0" y="31.6" width="1.7" height="2" fill="#686874"/>
<rect x="212.6" y="31.6" width="1.7" height="2" fill="#686874"/>
<rect x="217.2" y="31.6" width="1.7" height="2" fill="#b06478"/>
<rect x="221.8" y="31.6" width="1.7" height="2" fill="#686874"/>
<rect x="226.4" y="31.6" width="1.7" height="2" fill="#686874"/>
<rect x="231.0" y="31.6" width="1.7" height="2" fill="#686874"/>
<rect x="235.6" y="31.6" width="1.7" height="2" fill="#686874"/>
<rect x="240.2" y="31.6" width="1.7" height="2" fill="#b06478"/>
<rect x="244.8" y="31.6" width="1.7" height="2" fill="#686874"/>
<rect x="249.4" y="31.6" width="1.7" height="2" fill="#686874"/>
<rect x="254.0" y="31.6" width="1.7" height="2" fill="#686874"/>
<rect x="258.6" y="31.6" width="1.7" height="2" fill="#686874"/>
<rect x="263.2" y="31.6" width="1.7" height="2" fill="#b06478"/>
<rect x="267.8" y="31.6" width="1.7" height="2" fill="#686874"/>
<rect x="272.4" y="31.6" width="1.7" height="2" fill="#686874"/>
<rect x="277.0" y="31.6" width="1.7" height="2" fill="#686874"/>
<rect x="281.6" y="31.6" width="1.7" height="2" fill="#686874"/>
<rect x="286.2" y="31.6" width="1.7" height="2" fill="#b06478"/>
<rect x="290.8" y="31.6" width="1.7" height="2" fill="#686874"/>
<rect x="295.4" y="31.6" width="1.7" height="2" fill="#686874"/>
<rect x="300.0" y="31.6" width="1.7" height="2" fill="#686874"/>
<rect x="304.6" y="31.6" width="1.7" height="2" fill="#686874"/>
<rect x="309.2" y="31.6" width="1.7" height="2" fill="#b06478"/>
<rect x="313.8" y="31.6" width="1.7" height="2" fill="#686874"/>
<rect x="318.4" y="31.6" width="1.7" height="2" fill="#686874"/>
<rect x="323.0" y="31.6" width="1.7" height="2" fill="#686874"/>
<rect x="327.6" y="31.6" width="1.7" height="2" fill="#686874"/>
<rect x="332.2" y="31.6" width="1.7" height="2" fill="#b06478"/>
<rect x="336.8" y="31.6" width="1.7" height="2" fill="#686874"/>
<rect x="341.4" y="31.6" width="1.7" height="2" fill="#686874"/>
<rect x="346.0" y="31.6" width="1.7" height="2" fill="#686874"/>
<rect x="350.6" y="31.6" width="1.7" height="2" fill="#686874"/>
<rect x="355.2" y="31.6" width="1.7" height="2" fill="#b06478"/>
<rect x="359.8" y="31.6" width="1.7" height="2" fill="#686874"/>
<rect x="364.4" y="31.6" width="1.7" height="2" fill="#686874"/>
<rect x="369.0" y="31.6" width="1.7" height="2" fill="#686874"/>
<rect x="373.6" y="31.6" width="1.7" height="2" fill="#686874"/>
<rect x="378.2" y="31.6" width="1.7" height="2" fill="#b06478"/>
<rect x="382.8" y="31.6" width="1.7" height="2" fill="#686874"/>
<rect x="387.4" y="31.6" width="1.7" height="2" fill="#686874"/>
<rect x="392.0" y="31.6" width="1.7" height="2" fill="#686874"/>
<rect x="396.6" y="31.6" width="1.7" height="2" fill="#686874"/>
<rect x="401.2" y="31.6" width="1.7" height="2" fill="#b06478"/>
<rect x="405.8" y="31.6" width="1.7" height="2" fill="#686874"/>
<rect x="255" y="34" width="10" height="1.7" fill="#6f6664"/>
<rect x="258.2" y="34" width="3.6" height="25.5" fill="#4c3e3b"/>
<rect x="255" y="58.8" width="10" height="1.8" fill="#6f6664"/>
<rect x="253" y="44" width="17" height="3.4" fill="#c2bcbc"/>
<rect x="254.5" y="47.4" width="3.6" height="6.6" fill="#ece8e8"/>
<rect x="262" y="47.4" width="3.6" height="6.6" fill="#ece8e8"/>
<rect x="328.5" y="34" width="10" height="1.7" fill="#6f6664"/>
<rect x="331.7" y="34" width="3.6" height="25.5" fill="#4c3e3b"/>
<rect x="328.5" y="58.8" width="10" height="1.8" fill="#6f6664"/>
<rect x="326.5" y="44" width="17" height="3.4" fill="#c2bcbc"/>
<rect x="328.0" y="47.4" width="3.6" height="6.6" fill="#ece8e8"/>
<rect x="335.5" y="47.4" width="3.6" height="6.6" fill="#ece8e8"/>
<path d="M196,40.3 H225 V43.5 H252 V55.6 H197 Q192.6,55.6 192.6,51 V44 Q192.6,40.3 196,40.3 Z" fill="#45211a"/>
<path d="M196.5,41.3 H224 V43.2 H197 Q194.2,43.4 194.2,46.5" fill="none" stroke="#803822" stroke-width="1"/>
<rect x="198" y="44.5" width="40" height="9.5" rx="4.5" fill="#52281c" stroke="#803822" stroke-width="0.9"/>
<rect x="192.8" y="48.5" width="4.2" height="5.2" fill="#c9c3c6"/>
<rect x="228" y="43.6" width="24" height="3" fill="#45211a"/>
<rect x="230" y="46.6" width="16" height="1.2" fill="#9a6a58"/>
<rect x="232" y="49.5" width="14" height="3" fill="#803822"/>
<rect x="246" y="37.5" width="3.2" height="17.8" fill="#43260f"/>
<rect x="232" y="53.2" width="17" height="2" fill="#43260f"/>
<rect x="266.5" y="43.4" width="61.5" height="12.6" fill="#45211a"/>
<rect x="266.5" y="45.60" width="22.5" height="1.15" fill="#553632"/>
<rect x="266.5" y="46.75" width="22.5" height="1.15" fill="#a39593"/>
<rect x="266.5" y="47.90" width="22.5" height="1.15" fill="#553632"/>
<rect x="266.5" y="49.05" width="22.5" height="1.15" fill="#a39593"/>
<rect x="266.5" y="50.20" width="22.5" height="1.15" fill="#553632"/>
<rect x="266.5" y="51.35" width="22.5" height="1.15" fill="#a39593"/>
<rect x="266.5" y="52.50" width="22.5" height="1.15" fill="#553632"/>
<rect x="266.5" y="53.65" width="22.5" height="1.15" fill="#a39593"/>
<rect x="266.5" y="54.80" width="22.5" height="1.15" fill="#553632"/>
<rect x="306" y="45.60" width="17.5" height="1.15" fill="#553632"/>
<rect x="306" y="46.75" width="17.5" height="1.15" fill="#a39593"/>
<rect x="306" y="47.90" width="17.5" height="1.15" fill="#553632"/>
<rect x="306" y="49.05" width="17.5" height="1.15" fill="#a39593"/>
<rect x="306" y="50.20" width="17.5" height="1.15" fill="#553632"/>
<rect x="306" y="51.35" width="17.5" height="1.15" fill="#a39593"/>
<rect x="306" y="52.50" width="17.5" height="1.15" fill="#553632"/>
<rect x="306" y="53.65" width="17.5" height="1.15" fill="#a39593"/>
<rect x="306" y="54.80" width="17.5" height="1.15" fill="#553632"/>
<rect x="266.5" y="43.2" width="61.5" height="2.2" fill="#45211a"/>
<rect x="323.2" y="44.4" width="4.8" height="10.6" fill="#aaa2a2"/>
<path d="M339.5,43.6 H377 V39.6 H396 Q400.6,39.8 400.6,45 V56 H339.5 Z" fill="#45211a"/>
<rect x="339.5" y="47.60" width="61.0" height="1.15" fill="#553632"/>
<rect x="339.5" y="48.75" width="61.0" height="1.15" fill="#a39593"/>
<rect x="339.5" y="49.90" width="61.0" height="1.15" fill="#553632"/>
<rect x="339.5" y="51.05" width="61.0" height="1.15" fill="#a39593"/>
<rect x="339.5" y="52.20" width="61.0" height="1.15" fill="#553632"/>
<rect x="339.5" y="53.35" width="61.0" height="1.15" fill="#a39593"/>
<rect x="339.5" y="54.50" width="61.0" height="1.15" fill="#553632"/>
<rect x="339.5" y="55.65" width="61.0" height="0.35" fill="#a39593"/>
<rect x="339.5" y="45.8" width="45" height="1.8" fill="#803822"/>
<path d="M378,41 H395.5 Q399,41.2 399.2,44.6" fill="none" stroke="#803822" stroke-width="1"/>
<rect x="393.5" y="41.6" width="3.2" height="2" fill="#b9b0b0"/>
<path d="M224.6,39.2 L228,39.4 Q232,40.4 235.8,43 Q239.4,42.2 242.4,38.4 L246.4,38.4 L246.2,41.4 Q241.4,47.2 235.4,47 Q229.6,46.4 224.8,43.6 Z" fill="#10981e"/>
<path d="M238.6,46.6 L241.6,47.6 L232.6,55 L229.4,54.4 Z" fill="#10981e"/>
<path d="M271,38.3 L278,38.3 Q281,42.4 284.6,42.4 L289,39.4 L296,36.6 L304,40 Q308.6,43.4 311.6,43.4 L316,38.3 L322,38.3 L318,42 L308,51 L305,55.6 L290,55.6 L287.6,51 Q282,44.6 277.6,44.6 Z" fill="#10981e"/>
<path d="M345.6,38.3 L350,38.3 L356.4,43.8 L352,43.8 Z" fill="#10981e"/>
<path d="M358.8,43.9 L366,38.6 L370,36.8 L374,38.8 L380.4,43.9 Z" fill="#10981e"/>
<path d="M389.6,38.3 L393.4,38.3 L387.6,43.6 L384.2,43.6 Z" fill="#10981e"/>
<rect x="197" y="34.4" width="9" height="4.3" fill="#17683b"/>
<rect x="198.3" y="35.6" width="1.8" height="1.7" fill="#a9bdb0"/>
<rect x="202.8" y="35.6" width="1.8" height="1.7" fill="#a9bdb0"/>
<rect x="213.5" y="34.4" width="6.5" height="4.3" fill="#17683b"/>
<rect x="215.8" y="35.6" width="1.8" height="1.7" fill="#a9bdb0"/>
<rect x="242" y="34.4" width="8" height="4.3" fill="#17683b"/>
<rect x="243.1" y="35.6" width="1.8" height="1.7" fill="#a9bdb0"/>
<rect x="247.1" y="35.6" width="1.8" height="1.7" fill="#a9bdb0"/>
<rect x="271" y="34.4" width="7.399999999999977" height="4.3" fill="#17683b"/>
<rect x="272.0" y="35.6" width="1.8" height="1.7" fill="#a9bdb0"/>
<rect x="275.6" y="35.6" width="1.8" height="1.7" fill="#a9bdb0"/>
<rect x="287" y="34.4" width="7.600000000000023" height="4.3" fill="#17683b"/>
<rect x="288.0" y="35.6" width="1.8" height="1.7" fill="#a9bdb0"/>
<rect x="291.8" y="35.6" width="1.8" height="1.7" fill="#a9bdb0"/>
<rect x="315" y="34.4" width="8" height="4.3" fill="#17683b"/>
<rect x="316.1" y="35.6" width="1.8" height="1.7" fill="#a9bdb0"/>
<rect x="320.1" y="35.6" width="1.8" height="1.7" fill="#a9bdb0"/>
<rect x="343.3" y="34.4" width="8.0" height="4.3" fill="#17683b"/>
<rect x="344.4" y="35.6" width="1.8" height="1.7" fill="#a9bdb0"/>
<rect x="348.4" y="35.6" width="1.8" height="1.7" fill="#a9bdb0"/>
<rect x="359.6" y="34.4" width="8.0" height="4.3" fill="#17683b"/>
<rect x="360.7" y="35.6" width="1.8" height="1.7" fill="#a9bdb0"/>
<rect x="364.7" y="35.6" width="1.8" height="1.7" fill="#a9bdb0"/>
<rect x="388" y="34.4" width="8" height="4.3" fill="#17683b"/>
<rect x="389.1" y="35.6" width="1.8" height="1.7" fill="#a9bdb0"/>
<rect x="393.1" y="35.6" width="1.8" height="1.7" fill="#a9bdb0"/>
<rect x="226" y="49.5" width="5.4" height="6.6" fill="#7fe0a2"/>
<rect x="287.2" y="45.4" width="19.8" height="11.2" fill="#7fe0a2"/>
<rect x="363.4" y="47.6" width="5.4" height="9.4" fill="#7fe0a2"/>
<rect x="371.4" y="47.6" width="6" height="9.4" fill="#7fe0a2"/>
<rect x="222.7" y="57" width="1.7" height="2.6" fill="#3a2a2a"/>
<rect x="295.2" y="57" width="1.7" height="2.6" fill="#3a2a2a"/>
<rect x="369.2" y="57" width="1.7" height="2.6" fill="#3a2a2a"/>
</g>
<g class="a" font-size="13.4" fill="#151515" stroke="#151515" stroke-width="0.35">
<text filter="url(#halo)" stroke-width="0.5" x="210.6" y="56" font-size="14" textLength="19.8" lengthAdjust="spacingAndGlyphs">Left</text>
<text x="287.4" y="55" font-size="13.6" textLength="18.6" lengthAdjust="spacingAndGlyphs">Mid</text>
<text filter="url(#halo)" stroke-width="0.5" x="353.6" y="55.6" font-size="13.6" textLength="30" lengthAdjust="spacingAndGlyphs">Right</text>
<text x="190.8" y="70.4" textLength="60.4" lengthAdjust="spacingAndGlyphs">(HTS coil2)</text>
<text x="267.6" y="70.4" textLength="60.4" lengthAdjust="spacingAndGlyphs">(HTS coil1)</text>
<text x="337.8" y="70.4" textLength="61" lengthAdjust="spacingAndGlyphs">(HTS coil3)</text>
</g>
<g class="a" font-size="12.7">
<text x="218.9" y="34.5" fill="#0000ff" stroke="#0000ff" stroke-width="0.45">S</text>
<text x="292.3" y="34.6" fill="#ff0000" stroke="#ff0000" stroke-width="0.4">N</text>
<text x="366.6" y="34.3" fill="#0000ff" stroke="#0000ff" stroke-width="0.45">S</text>
</g>
</svg></body></html>
